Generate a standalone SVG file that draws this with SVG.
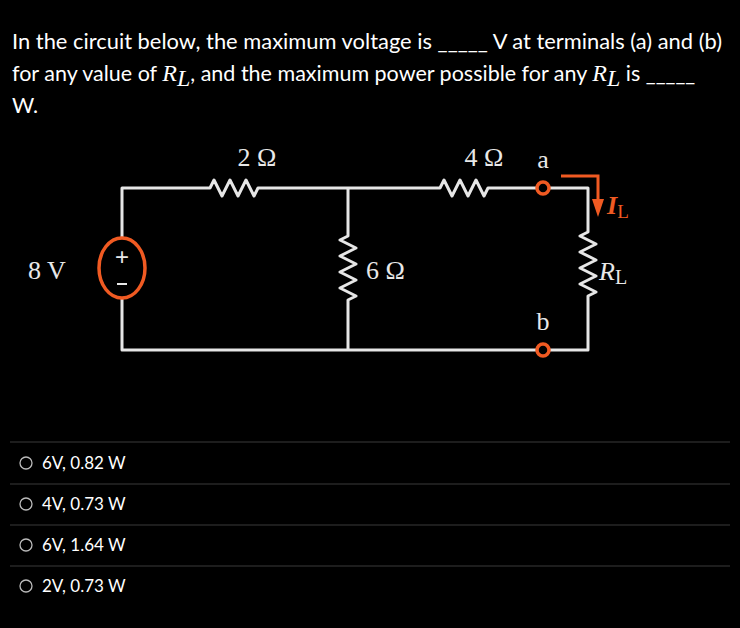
<svg xmlns="http://www.w3.org/2000/svg" width="740" height="628" viewBox="0 0 740 628">
<style>
.q{font-family:Lato,"Liberation Sans",sans-serif;font-size:21.5px;fill:#fff}
.m{font-family:"Liberation Serif",serif;font-style:italic;font-size:24px;fill:#fff}
.c{font-family:"Liberation Serif",serif;font-size:26px;fill:#e8e8e8}
.w{fill:none;stroke:#e6e6e6;stroke-width:3;stroke-linejoin:round}
.o{fill:none;stroke:#f05a22;stroke-width:3.5}
.opt{font-family:Lato,"Liberation Sans",sans-serif;font-size:17px;fill:#fff}
.r{fill:none;stroke:#bbb;stroke-width:1.3}
.sep{stroke:#3a3a3a;stroke-width:1}
</style>
<rect width="740" height="628" fill="#000"/>
<g id="question">
<text class="q" x="12" y="49" textLength="710" lengthAdjust="spacingAndGlyphs">In the circuit below, the maximum voltage is _____ V at terminals (a) and (b)</text>
<text class="q" x="12" y="81">for any value of <tspan class="m">R</tspan><tspan class="m" font-size="15" dy="5">L</tspan><tspan dy="-5">, and the maximum power possible for any </tspan><tspan class="m">R</tspan><tspan class="m" font-size="15" dy="5">L</tspan><tspan dy="-5"> is _____</tspan></text>
<text class="q" x="12" y="113">W.</text>
</g>
<g id="connectors">
<path class="w" d="M122 238 V188 H210 l4 -8 l8 16 l8 -16 l8 16 l8 -16 l8 16 l4 -8 H440 l4 -8 l8 16 l8 -16 l8 16 l8 -16 l8 16 l4 -8 H536"/>
<path class="w" d="M550 188 H588 V232 l-8 4 l16 8 l-16 8 l16 8 l-16 8 l16 8 l-16 8 l16 8 l-8 4 V350 H550"/>
<path class="w" d="M536 350 H122 V298"/>
<path class="w" d="M348 188 V236 l-8 4 l16 8 l-16 8 l16 8 l-16 8 l16 8 l-16 8 l16 8 l-8 4 V350"/>
</g>
<g id="source">
<ellipse class="o" cx="122" cy="268" rx="23" ry="30"/>
<text x="122" y="265" text-anchor="middle" font-family="Liberation Sans,sans-serif" font-size="24" fill="#e8e8e8">+</text>
<line x1="117" y1="284" x2="127" y2="284" stroke="#e8e8e8" stroke-width="2"/>
<text class="c" x="28" y="279">8 V</text>
</g>
<g id="r2"><text class="c" x="257" y="166" text-anchor="middle">2 Ω</text></g>
<g id="r4"><text class="c" x="484" y="166" text-anchor="middle">4 Ω</text></g>
<g id="r6"><text class="c" x="366" y="279">6 Ω</text></g>
<g id="rl"><text class="c" x="599" y="280" font-style="italic">R<tspan font-size="20" font-style="normal" dy="4">L</tspan></text></g>
<g id="term-a"><circle class="o" cx="543" cy="188" r="6"/><text class="c" x="543" y="168" text-anchor="middle" font-size="18">a</text></g>
<g id="term-b"><circle class="o" cx="543" cy="350" r="6"/><text class="c" x="543" y="330" text-anchor="middle" font-size="18">b</text></g>
<g id="current">
<path d="M561 176 H598 V200" fill="none" stroke="#f05a22" stroke-width="3"/>
<polygon points="592,199 604,199 598,217" fill="#f05a22"/>
<text x="607" y="214" font-family="Liberation Serif,serif" font-style="italic" font-weight="bold" font-size="26" fill="#f05a22">I<tspan font-size="19" font-style="normal" font-weight="normal" dy="4">L</tspan></text>
</g>
<g id="options">
<line class="sep" x1="10" y1="442" x2="730" y2="442"/>
<line class="sep" x1="10" y1="484" x2="730" y2="484"/>
<line class="sep" x1="10" y1="525" x2="730" y2="525"/>
<line class="sep" x1="10" y1="566" x2="730" y2="566"/>
<circle class="r" cx="26" cy="463" r="6"/><text class="opt" x="42" y="469">6V, 0.82 W</text>
<circle class="r" cx="26" cy="504" r="6"/><text class="opt" x="42" y="510">4V, 0.73 W</text>
<circle class="r" cx="26" cy="545" r="6"/><text class="opt" x="42" y="551">6V, 1.64 W</text>
<circle class="r" cx="26" cy="586" r="6"/><text class="opt" x="42" y="592">2V, 0.73 W</text>
</g>
</svg>
